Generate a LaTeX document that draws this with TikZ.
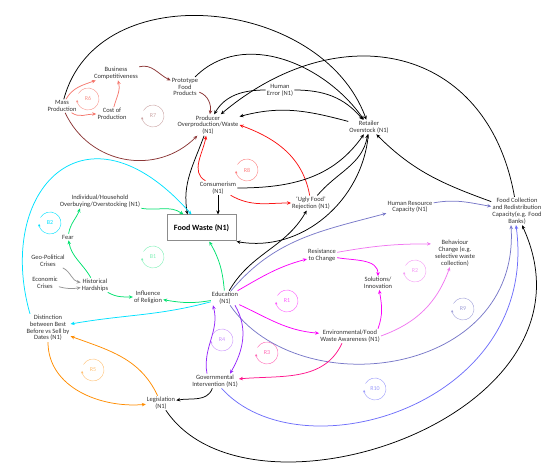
\documentclass[tikz,border=0pt]{standalone}
\usepackage{fontspec}
\setmainfont{Carlito}
\usepackage{xcolor}
\usetikzlibrary{arrows.meta}
\usetikzlibrary{calc}
\definecolor{link-brown}{RGB}{140, 55, 55}
\definecolor{link-salmon}{RGB}{245, 120, 110}
\definecolor{link-red}{RGB}{250, 20, 20}
\definecolor{link-cyan}{RGB}{0, 225, 255}
\definecolor{link-green}{RGB}{0, 225, 110}
\definecolor{link-magenta}{RGB}{250, 0, 250}
\definecolor{link-violet}{RGB}{240, 120, 240}
\definecolor{link-pink}{RGB}{255, 20, 140}
\definecolor{link-purple}{RGB}{150, 40, 250}
\definecolor{link-slate}{RGB}{120, 120, 200}
\definecolor{link-blue}{RGB}{110, 110, 250}
\definecolor{link-orange}{RGB}{255, 140, 0}
\definecolor{link-gray}{RGB}{150, 150, 150}
\newcommand{\loopmark}[4]{% name, position, label, colour
  \node[looptext, text=#4] (#1) at (#2) {#3};
  \draw[#4, thin, -{Stealth[length=2.5pt,width=2.5pt]}] ($(#2)+(150:11)$) arc[start angle=150, end angle=-175, radius=11];}

\begin{document}
\begin{tikzpicture}[x=1pt, y=1pt,
    lbl/.style={font=\fontsize{6.5}{6.8}\selectfont, align=center, inner sep=1pt, text=black!80},
    lnk/.style={-{Stealth[length=4pt,width=3.5pt]}, line width=0.75pt},
    looptext/.style={font=\fontsize{6}{6}\selectfont, inner sep=0pt}]
\useasboundingbox (0,0) rectangle (550,466);

% factors
\node[lbl] (mass) at (62,360) {Mass\\Production};
\node[lbl] (busi) at (116,393) {Business\\Competitiveness};
\node[lbl] (cost) at (112,352) {Cost of\\Production};
\node[lbl] (proto) at (185,379) {Prototype\\Food\\Products};
\node[lbl] (human) at (280,376) {Human\\Error (N1)};
\node[lbl] (producer) at (208,341) {Producer\\Overproduction/Waste\\(N1)};
\node[lbl] (retailer) at (369,339) {Retailer\\Overstock (N1)};
\node[lbl] (consum) at (218,278) {Consumerism\\(N1)};
\node[lbl] (ugly) at (311,263) {`Ugly Food'\\Rejection (N1)};
\node[draw=black!45, line width=1pt, minimum width=69pt, minimum height=26pt,
      font=\bfseries\fontsize{8}{9}\selectfont] (fw) at (201.5,238) {Food Waste (N1)};
\node[lbl] (hrc) at (410,259) {Human Resource\\Capacity (N1)};
\node[lbl] (fcr) at (517,255) {Food Collection\\and Redistribution\\Capacity(e.g. Food\\Banks)};
\node[lbl] (indiv) at (100,265) {Individual/Household\\Overbuying/Overstocking (N1)};
\node[lbl] (fear) at (68,229) {Fear};
\node[lbl] (geo) at (48,205) {Geo-Political\\Crises};
\node[lbl] (hist) at (95,181) {Historical\\Hardships};
\node[lbl] (econ) at (45,183) {Economic\\Crises};
\node[lbl] (relig) at (148,169) {Influence\\of Religion};
\node[lbl] (educ) at (225,168) {Education\\(N1)};
\node[lbl] (resist) at (322,211) {Resistance\\to Change};
\node[lbl] (solut) at (378,183) {Solutions/\\Innovation};
\node[lbl] (behav) at (455,213) {Behaviour\\Change (e.g.\\selective waste\\collection)};
\node[lbl] (envir) at (350,130) {Environmental/Food\\Waste Awareness (N1)};
\node[lbl] (dist) at (48,138) {Distinction\\between Best\\Before vs Sell by\\Dates (N1)};
\node[lbl] (gov) at (215,85) {Governmental\\Intervention (N1)};
\node[lbl] (legis) at (161,63) {Legislation\\(N1)};

% loops
\loopmark{r6}{88,367}{R6}{link-salmon!80}
\loopmark{r7}{153,350}{R7}{link-brown!45}
\loopmark{r8}{247,296}{R8}{link-red!55}
\loopmark{b2}{50,243}{B2}{link-cyan}
\loopmark{b1}{153,209}{B1}{link-green!50}
\loopmark{r1}{287,165}{R1}{link-magenta!65}
\loopmark{r2}{415,195}{R2}{link-violet!75}
\loopmark{r9}{463,157}{R9}{link-slate!70}
\loopmark{r3}{267,113}{R3}{link-pink!65}
\loopmark{r4}{222,126}{R4}{link-purple!50}
\loopmark{r5}{93,96}{R5}{link-orange!55}
\loopmark{r10}{375,77}{R10}{link-blue!70}

% production side
\draw[lnk, link-brown] (mass) to[out=-65, in=-135, looseness=1.1] (producer);
\draw[lnk, link-salmon] (mass) to[out=60, in=200] (busi);
\draw[lnk, link-salmon] (mass) to[out=-35, in=180] (cost);
\draw[lnk, link-salmon] (cost) to[out=75, in=-75] (busi);
\draw[lnk, link-brown] (busi) to[out=15, in=155] (proto);
\draw[lnk, link-brown] (proto) to[out=-20, in=80] (producer);
\draw[lnk] (mass) to[out=75, in=110, looseness=1.1] (retailer);
\draw[lnk] (proto) to[out=45, in=125] (retailer);
\draw[lnk] (fcr) to[out=100, in=40, looseness=1.3] (producer);
\draw[lnk] (human) to[out=180, in=60] (producer);
\draw[lnk] (human) to[out=0, in=130] (retailer);
\draw[lnk] (retailer) to[out=165, in=15] (producer);

% into food waste
\draw[lnk] (producer) to[out=-110, in=100] ($(fw.north)+(-14,0)$);
\draw[lnk] (consum) -- (consum |- fw.north);
\draw[lnk, link-red] (consum) to[out=150, in=-100] (producer);
\draw[lnk, link-red] (consum) to[out=-30, in=180] (ugly);
\draw[lnk, link-red] (ugly) to[out=100, in=-20] (producer.east);
\draw[lnk] (consum) to[out=0, in=-125] (retailer);
\draw[lnk] (ugly) to[out=50, in=-100] (retailer);
\draw[lnk] (retailer) to[out=-95, in=-10] (fw.south east);
\draw[lnk] (fcr) to[out=160, in=-45] (retailer);
\draw[lnk] (educ) to[out=60, in=-120] (ugly);
\draw[lnk] (legis) .. controls (250,-70) and (610,50) .. ($(fcr.south)+(5,0)$);

% capacity
\draw[lnk, link-slate] (educ) to[out=50, in=195] (hrc);
\draw[lnk, link-slate] (hrc) to[out=10, in=170] (fcr);
\draw[lnk, link-slate] (educ) .. controls (300,60) and (520,90) .. ($(fcr.south)+(-6,0)$);
\draw[lnk, link-blue] (gov) .. controls (300,-10) and (540,60) .. ($(fcr.south)+(-1,0)$);

% awareness
\draw[lnk, link-magenta] (educ) to[out=30, in=195] (resist);
\draw[lnk, link-magenta] (resist) to[out=-10, in=90] (solut);
\draw[lnk, link-violet] (resist) to[out=10, in=180] ($(behav.north)+(-24,-5)$);
\draw[lnk, link-magenta] ($(envir.north)+(28,0)$) to[out=70, in=-80] (solut);
\draw[lnk, link-violet] (envir.east) to[out=20, in=-110] (behav);
\draw[lnk, link-magenta] (educ) to[out=-25, in=175] (envir);
\draw[lnk, link-pink] ($(envir.south)+(-8,0)$) to[out=-115, in=5] (gov);
\draw[lnk, link-purple] ($(gov.north)+(-8,0)$) to[out=100, in=-75] ($(educ.south)+(-12,0)$);
\draw[lnk, link-purple] ($(educ.south)+(10,0)$) to[out=-60, in=60] ($(gov.north)+(15,0)$);

% dates and legislation
\draw[lnk, link-cyan] (educ) to[out=-165, in=10] (dist);
\draw[lnk, link-cyan] ($(dist.north)+(-18,0)$) .. controls (-5,275) and (85,372) .. ($(fw.north)+(-10,0)$);
\draw[lnk, link-orange] (dist) to[out=-90, in=185] (legis);
\draw[lnk, link-orange] (legis) to[out=115, in=-20] (dist);
\draw[lnk] (gov) to[out=-110, in=10] (legis);

% hardships
\draw[lnk, link-green] (hist) to[out=120, in=-80] (fear);
\draw[lnk, link-green] (fear) to[out=80, in=-110] ($(indiv.south)+(-20,0)$);
\draw[lnk, link-green] (indiv) to[out=-10, in=145] ($(fw.north)+(-18,0)$);
\draw[lnk, link-green] (hist) to[out=-30, in=180] (relig);
\draw[lnk, link-green] (educ) to[out=-170, in=-10] (relig);
\draw[lnk, link-green] (educ) to[out=95, in=-60] (fw);
\draw[lnk, link-gray] (geo) to[out=-25, in=170] (hist);
\draw[lnk, link-gray] (econ) to[out=-15, in=190] (hist);
\end{tikzpicture}
\end{document}
